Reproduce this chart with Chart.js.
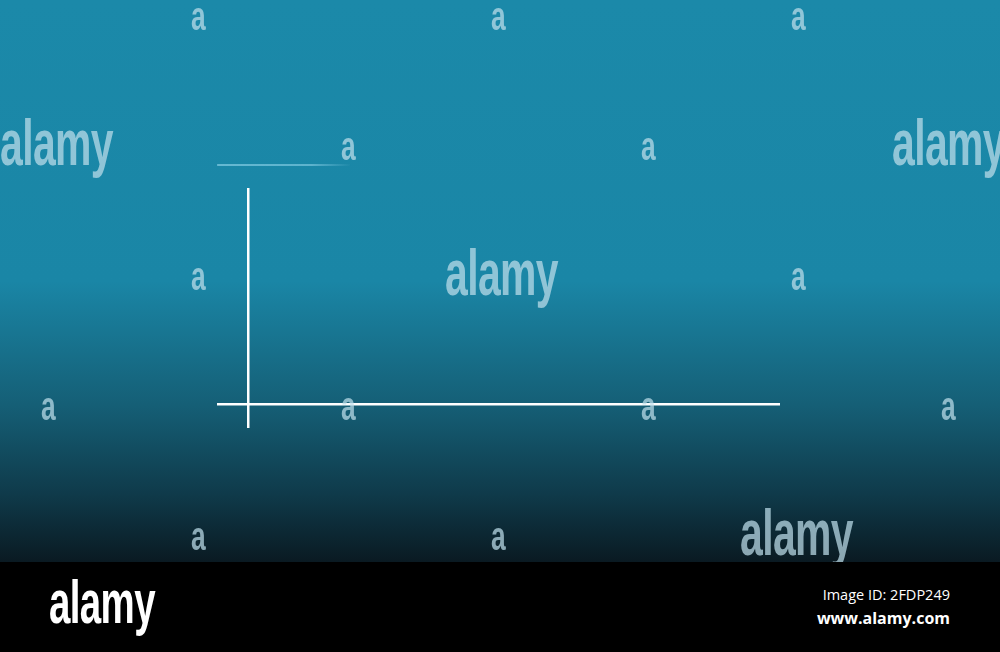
<!DOCTYPE html>
<html>
<head>
<meta charset="utf-8">
<script src="https://cdn.jsdelivr.net/npm/chart.js@4.4.1/dist/chart.umd.min.js"></script>
<style>
  html, body { margin: 0; padding: 0; width: 1000px; height: 652px; overflow: hidden; background: #000; }
  #stage {
    position: relative; width: 1000px; height: 562px; overflow: hidden;
    background: linear-gradient(to bottom, #1b89a9 0%, #1a86a6 50%, #155f76 72%, #0f3a4a 88%, #0a1a22 100%);
  }
  #chartOverview { position: absolute; left: 0; top: 0; }
  .wm {
    position: absolute; color: rgba(190, 222, 234, 0.72);
    font-family: "Liberation Sans Narrow", "Liberation Sans", sans-serif; font-weight: bold;
    transform-origin: 0 0; white-space: nowrap; line-height: 1; pointer-events: none;
  }
  .wm.big { font-size: 64px; letter-spacing: -1px; transform: scaleX(0.64); }
  .wm.small { font-size: 40px; transform: scaleX(0.66); }
  #footer { position: relative; width: 1000px; height: 90px; background: #000; }
  #logo {
    position: absolute; left: 49px; top: 9px; color: #fff;
    font-family: "Liberation Sans Narrow", "Liberation Sans", sans-serif; font-weight: bold;
    font-size: 62px; letter-spacing: -1px; transform: scaleX(0.62); transform-origin: 0 0; line-height: 1;
  }
  #imgid { position: absolute; right: 50px; top: 23px; color: #fff; font: 14.5px "Open Sans", sans-serif; }
  #site { position: absolute; right: 50px; top: 45px; color: #fff; font: bold 16px "Open Sans", sans-serif; }
</style>
</head>
<body>
<div id="stage">
  <canvas id="chartOverview" width="1000" height="562"></canvas>
</div>
<div id="footer">
  <div id="logo">alamy</div>
  <div id="imgid">Image ID: 2FDP249</div>
  <div id="site">www.alamy.com</div>
</div>
<script>
// axis ranges (empty chart, only the zero lines are shown)
const xRange = [0, 10];
const yRange = [0, 10];
// short faint line above the plot
const titleLineX = [-0.58, 1.92];
const titleLineY = [11.06, 11.06];

// watermark positions [x, y, text, size]
const marks = [
  [0, 111, "alamy", "big"], [892, 111, "alamy", "big"], [445, 241, "alamy", "big"], [740, 501, "alamy", "big"],
  [191, -4, "a", "small"], [491, -4, "a", "small"], [791, -4, "a", "small"],
  [341, 126, "a", "small"], [641, 126, "a", "small"],
  [191, 256, "a", "small"], [791, 256, "a", "small"],
  [41, 386, "a", "small"], [341, 386, "a", "small"], [641, 386, "a", "small"], [941, 386, "a", "small"],
  [191, 516, "a", "small"], [491, 516, "a", "small"]
];

document.addEventListener("DOMContentLoaded", function () {
    const ctx = document.getElementById("chartOverview");
    if (!ctx) return;

    const zeroOnly = c => (c.tick && c.tick.value === 0) ? "#ffffff" : "rgba(0,0,0,0)";

    new Chart(ctx, {
        type: "line",
        data: {
            datasets: [{
                data: titleLineX.map((x, i) => ({ x: x, y: titleLineY[i] })),
                borderColor: function (c) {
                    const area = c.chart.chartArea;
                    if (!area) return "#5fb6d2";
                    const g = c.chart.ctx.createLinearGradient(217, 0, 352, 0);
                    g.addColorStop(0, "rgba(110,190,215,0.9)");
                    g.addColorStop(0.7, "rgba(110,190,215,0.8)");
                    g.addColorStop(1, "rgba(110,190,215,0)");
                    return g;
                },
                borderWidth: 2,
                pointRadius: 0,
                clip: false
            }]
        },
        options: {
            responsive: false,
            animation: false,
            layout: { padding: { left: 217, right: 220, top: 188, bottom: 134 } },
            plugins: { legend: { display: false }, tooltip: { enabled: false } },
            scales: {
                x: {
                    type: "linear", min: xRange[0], max: xRange[1],
                    ticks: { display: false, stepSize: 1 },
                    border: { display: false },
                    grid: { color: zeroOnly, lineWidth: 2.5, drawTicks: true, tickLength: 24 }
                },
                y: {
                    min: yRange[0], max: yRange[1],
                    ticks: { display: false, stepSize: 1 },
                    border: { display: false },
                    grid: { color: zeroOnly, lineWidth: 2.5, drawTicks: true, tickLength: 31 }
                }
            }
        }
    });

    const stage = document.getElementById("stage");
    marks.forEach(function (m) {
        const d = document.createElement("div");
        d.className = "wm " + m[3];
        d.style.left = m[0] + "px";
        d.style.top = m[1] + "px";
        d.textContent = m[2];
        stage.appendChild(d);
    });
});
</script>
</body>
</html>
